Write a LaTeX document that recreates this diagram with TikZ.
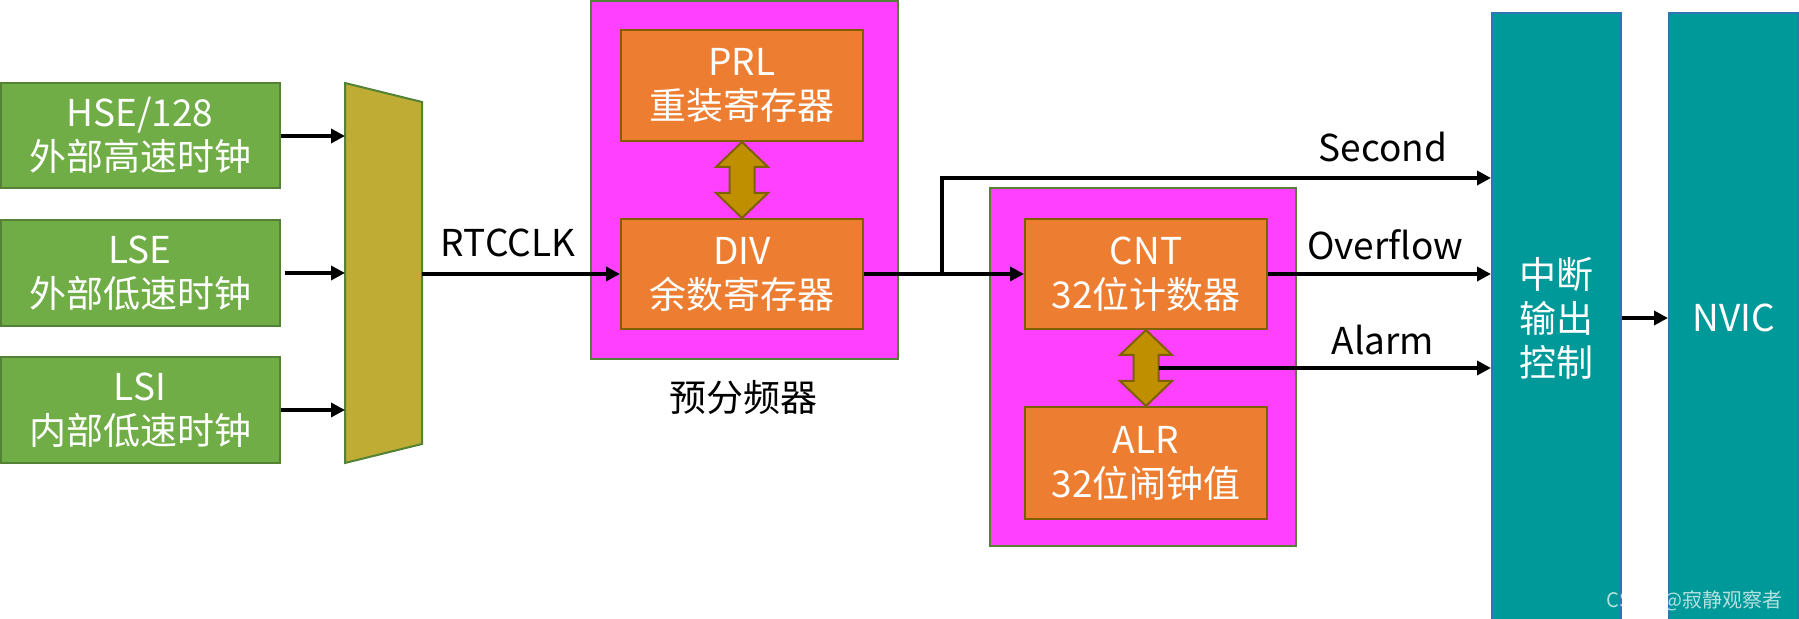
\documentclass[tikz,border=0pt]{standalone}
\usepackage{fontspec}
\setmainfont{Noto Sans CJK SC}
\usetikzlibrary{arrows.meta,calc}
\newlength\px
\setlength\px{0.5pt}
\definecolor{grn}{RGB}{112,173,71}
\definecolor{grnline}{RGB}{84,130,53}
\definecolor{mux}{RGB}{191,172,52}
\definecolor{pinkbg}{RGB}{255,64,255}
\definecolor{orng}{RGB}{237,125,49}
\definecolor{brn}{RGB}{127,96,0}
\definecolor{gold}{RGB}{191,143,0}
\definecolor{tealc}{RGB}{0,153,153}
\definecolor{blueline}{RGB}{46,117,182}
\tikzset{
  txt/.style={font=\fontsize{18.5}{22}\selectfont, align=center, inner sep=0pt},
  srcbox/.style={txt, draw=grnline, fill=grn, line width=1pt, text=white, minimum width=279\px, minimum height=106\px},
  grp/.style={draw=grnline, fill=pinkbg, line width=1pt},
  regbox/.style={txt, draw=brn, fill=orng, line width=1pt, text=white, minimum width=242\px, minimum height=111\px},
  tealbox/.style={txt, draw=blueline, fill=tealc, line width=1pt, text=white, minimum width=129\px, minimum height=610\px},
  conn/.style={line width=2pt, -{Triangle[length=7pt,width=7pt]}},
  dbl/.style={draw=brn, fill=gold, line width=1pt, line join=miter},
  lbl/.style={txt, text=black},
}
\newcommand\dblarr[2]{%
  \draw[dbl] (#1) -- ($(#1)+(26,25)$) -- ($(#1)+(12.5,25)$) -- ($(#2)+(12.5,-25)$) -- ($(#2)+(26,-25)$) -- (#2)
    -- ($(#2)+(-26,-25)$) -- ($(#2)+(-12.5,-25)$) -- ($(#1)+(-12.5,25)$) -- ($(#1)+(-26,25)$) -- cycle;}
\begin{document}
\begin{tikzpicture}[x=0.5pt,y=-0.5pt]
\useasboundingbox (0,0) rectangle (1799,619);
% source boxes
\node[srcbox, minimum height=105\px] (hse) at (140,135.5) {HSE/128\\外部高速时钟};
\node[srcbox] (lse) at (140,273) {LSE\\外部低速时钟};
\node[srcbox] (lsi) at (140,410) {LSI\\内部低速时钟};
% mux
\draw[fill=mux, draw=grnline, line width=1pt] (345,83) -- (422,102) -- (422,444) -- (345,463) -- cycle;
\coordinate (muxin1) at (345,136);
\coordinate (muxin2) at (345,273);
\coordinate (muxin3) at (345,410);
\coordinate (muxout) at (422,274);
\draw[conn] (hse.east |- muxin1) -- (muxin1);
\draw[conn] ($(lse.east)+(4,0)$) -- (muxin2);
\draw[conn] (lsi.east |- muxin3) -- (muxin3);
% prescaler group
\draw[grp] (591,1) rectangle (898,359);
\node[regbox] (prl) at (742,85.5) {PRL\\重装寄存器};
\node[regbox, minimum height=110\px] (div) at (742,274) {DIV\\余数寄存器};
\dblarr{prl.south}{div.north}
\node[lbl] (pre) at (743,397) {预分频器};
\draw[conn] (muxout) -- (div.west);
\node[lbl] (rtcclk) at (508,243) {RTCCLK};
% counter group
\draw[grp] (990,188) rectangle (1296,546);
\node[regbox, minimum height=110\px] (cnt) at (1146,274) {CNT\\32位计数器};
\node[regbox, minimum height=112\px] (alr) at (1146,463) {ALR\\32位闹钟值};
\dblarr{cnt.south}{alr.north}
% interrupt output, NVIC
\node[tealbox] (irq) at (1556.5,318) {中断\\输出\\控制};
\node[tealbox, minimum width=130\px] (nvic) at (1734,318) {NVIC};
% connectors
\coordinate (br) at (942,274);
\draw[conn] (div.east) -- (cnt.west);
\draw[conn] (br) -- (942,178) -- (irq.west |- 0,178);
\draw[conn] (cnt.east) -- (irq.west |- cnt.east);
\coordinate (alrm) at ($(cnt.south)!0.5!(alr.north)+(12.5,0)$);
\draw[conn] (alrm) -- (irq.west |- alrm);
\draw[conn] (irq.east) -- (nvic.west);
\node[lbl] (sec) at (1383,147) {Second};
\node[lbl] (ovf) at (1385,245) {Overflow};
\node[lbl] (alm) at (1383,340) {Alarm};
% watermark
\node[inner sep=0pt, text=white, opacity=0.7, font=\fontsize{10}{12}\selectfont, anchor=east] (wm) at (1783,601) {CSDN @寂静观察者};
\end{tikzpicture}
\end{document}
